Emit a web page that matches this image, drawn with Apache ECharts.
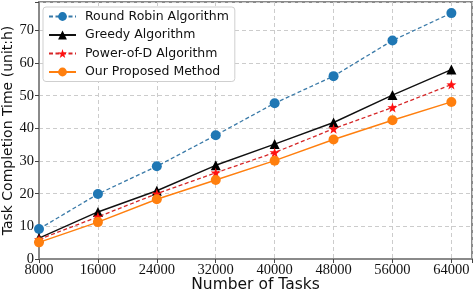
<!DOCTYPE html>
<html>
<head>
<meta charset="utf-8">
<script src="https://cdn.jsdelivr.net/npm/echarts@6/dist/echarts.min.js"></script>
<style>
  html, body { margin: 0; padding: 0; background: #fff; }
  #chart { width: 474px; height: 292px; }
</style>
</head>
<body>
<div id="chart"></div>
<script>
// x values (number of tasks)
var tasks = [8000, 16000, 24000, 32000, 40000, 48000, 56000, 64000];
// completion time (unit:h)
var roundRobin = [9.2, 19.9, 28.4, 37.9, 47.7, 56.0, 66.9, 75.3];
var greedy = [6.4, 14.4, 20.9, 28.7, 35.2, 41.8, 50.2, 58.0];
var powerOfD = [6.0, 12.9, 20.0, 26.4, 32.6, 39.9, 46.4, 53.4];
var proposed = [5.1, 11.3, 18.3, 24.2, 30.1, 36.6, 42.5, 48.1];

function pairs(ys) {
    return tasks.map(function (x, i) { return [x, ys[i]]; });
}

var serifFont = '"Liberation Serif", "Times New Roman", serif';
var sansFont = '"DejaVu Sans", sans-serif';

var myChart = echarts.init(document.getElementById('chart'), null, { renderer: 'canvas' });
myChart.setOption({
    animation: false,
    grid: {
        left: 39, right: 2, top: 2, bottom: 33,
        containLabel: false,
        outerBoundsMode: 'none',
        show: true,
        borderColor: '#8a8a8a',
        borderWidth: 2
    },
    legend: {
        orient: 'vertical',
        left: 43,
        top: 7,
        padding: [3, 6, 3, 5],
        itemWidth: 27,
        itemHeight: 11,
        itemGap: 5.5,
        backgroundColor: '#fff',
        borderColor: '#cfcfcf',
        borderWidth: 1,
        borderRadius: 3,
        textStyle: {
            fontFamily: sansFont,
            fontSize: 12.5,
            color: '#111',
            padding: [0, 0, 0, 4]
        },
        data: ['Round Robin Algorithm', 'Greedy Algorithm', 'Power-of-D Algorithm', 'Our Proposed Method']
    },
    xAxis: {
        type: 'value',
        min: 8000,
        max: 66800,
        interval: 8000,
        name: 'Number of Tasks',
        nameLocation: 'middle',
        nameGap: 18,
        nameMoveOverlap: false,
        nameTextStyle: { fontFamily: sansFont, fontSize: 15.5, color: '#111' },
        axisLine: { show: true, lineStyle: { color: '#8a8a8a', width: 2 } },
        axisTick: { show: true, length: 4, lineStyle: { color: '#444' } },
        axisLabel: {
            margin: 4,
            fontFamily: serifFont,
            fontSize: 14.5,
            color: '#111',
            formatter: function (v) { return v % 8000 === 0 ? String(v) : ''; }
        },
        splitLine: { show: true, lineStyle: { color: '#cccccc', type: [4, 3] } }
    },
    yAxis: {
        type: 'value',
        min: 0,
        max: 78.7,
        interval: 10,
        name: 'Task Completion Time (unit:h)',
        nameLocation: 'middle',
        nameGap: 24,
        nameMoveOverlap: false,
        nameTextStyle: { fontFamily: sansFont, fontSize: 14, color: '#111' },
        axisLine: { show: true, lineStyle: { color: '#8a8a8a', width: 2 } },
        axisTick: { show: true, length: 4, lineStyle: { color: '#444' } },
        axisLabel: {
            margin: 5,
            fontFamily: serifFont,
            fontSize: 14.5,
            color: '#111',
            formatter: function (v) { return v % 10 === 0 ? String(v) : ''; }
        },
        splitLine: { show: true, lineStyle: { color: '#cccccc', type: [4, 3] } }
    },
    series: [
        {
            name: 'Round Robin Algorithm',
            type: 'line',
            data: pairs(roundRobin),
            symbol: 'circle',
            symbolSize: 10,
            itemStyle: { color: '#1f77b4' },
            lineStyle: { color: '#3a7aa8', width: 1.3, type: [4, 2.5] }
        },
        {
            name: 'Greedy Algorithm',
            type: 'line',
            data: pairs(greedy),
            symbol: 'triangle',
            symbolSize: 10,
            itemStyle: { color: '#000' },
            lineStyle: { color: '#111', width: 1.4 }
        },
        {
            name: 'Power-of-D Algorithm',
            type: 'line',
            data: pairs(powerOfD),
            symbol: 'path://M0,-10L2.35,-3.24L9.51,-3.09L3.8,1.24L5.88,8.09L0,4L-5.88,8.09L-3.8,1.24L-9.51,-3.09L-2.35,-3.24Z',
            symbolSize: 10,
            itemStyle: { color: '#ff1010' },
            lineStyle: { color: '#d62728', width: 1.3, type: [4, 2.5] }
        },
        {
            name: 'Our Proposed Method',
            type: 'line',
            data: pairs(proposed),
            symbol: 'circle',
            symbolSize: 10,
            itemStyle: { color: '#ff7f0e' },
            lineStyle: { color: '#ff7f0e', width: 1.4 }
        }
    ]
});
</script>
</body>
</html>
